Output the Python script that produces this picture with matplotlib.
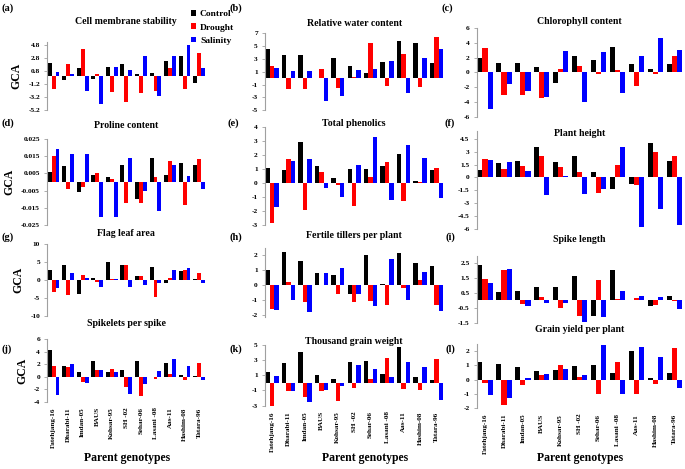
import matplotlib
matplotlib.use("Agg")
import matplotlib.pyplot as plt
from matplotlib.patches import Patch
from matplotlib.ticker import FuncFormatter
import numpy as np

plt.rcParams['font.family'] = ['Liberation Serif', 'DejaVu Serif']
plt.rcParams['font.weight'] = 'bold'
plt.rcParams['axes.unicode_minus'] = False

genotypes = ["Fatehjang-16", "Dharabi-11", "Imdan-05", "BAUS", "Kohsar-95", "SH -02",
             "Sehar-06", "Lasani -08", "Aas-11", "Hashim-08", "Tatara-96"]
series_names = ["Control", "Drought", "Salinity"]
series_colors = ["#000000", "#ff0000", "#0000ff"]

cms_control = [2.1, -0.6, 1.2, -0.5, 1.35, 1.95, 0.4, 0.5, 2.35, 3.1, -1.0]
cms_drought = [-1.9, 1.95, 4.25, 0.4, -2.4, -3.95, -2.65, -2.25, 1.2, -1.9, 3.6]
cms_salinity = [0.6, 0.4, -2.25, -4.3, 1.45, 1.0, 3.1, -3.0, 3.1, 4.8, 1.2]

rwc_control = [4.6, 3.65, 3.65, 0.05, 3.1, 1.9, 0.75, 2.55, 5.8, 5.5, 2.3]
rwc_drought = [1.9, -1.7, -1.7, 1.4, -1.6, 0.2, 5.45, -1.15, 3.8, -1.35, 6.45]
rwc_salinity = [1.65, 1.05, 1.05, -3.5, -2.7, 1.3, 1.4, 2.75, -2.25, 3.2, 4.6]

chl_control = [1.95, 1.35, 1.35, 0.7, -1.45, 2.2, 1.7, 3.5, 1.15, 0.5, 1.1]
chl_drought = [3.35, -3.1, -3.1, -3.4, 0.5, 0.85, -0.25, 0.35, -1.85, -0.15, 2.3]
chl_salinity = [-5.0, -1.55, -2.5, -3.35, 2.95, -4.0, 2.85, -2.75, 2.2, 4.75, 3.05]

pro_control = [0.006, 0.009, -0.006, 0.004, 0.003, 0.010, -0.010, 0.014, 0.004, 0.011, 0.010]
pro_drought = [0.015, -0.004, -0.003, 0.005, 0.002, -0.012, -0.012, 0.003, 0.012, -0.013, 0.013]
pro_salinity = [0.019, 0.016, 0.016, -0.020, -0.020, 0.014, -0.005, -0.017, 0.010, 0.0035, -0.004]

phe_control = [1.05, 0.95, 2.95, 1.2, 0.35, 1.0, 1.0, 1.25, 2.05, 0.15, 0.95]
phe_drought = [-2.85, 1.7, -1.9, 0.8, -0.15, -1.6, 0.45, 1.5, -1.25, 0.1, 1.05]
phe_salinity = [-1.7, 1.55, 1.7, -0.35, -0.95, 1.3, 3.3, -1.2, 2.7, 1.8, -1.05]

ph_control = [0.9, 1.65, 1.9, 3.55, 1.85, 2.5, 0.6, -1.35, -0.75, 4.0, 1.9]
ph_drought = [2.15, 0.95, 1.35, 2.5, 1.2, 0.6, -1.85, 1.5, -0.85, 3.0, 2.55]
ph_salinity = [2.05, 1.8, 0.8, -2.05, 0.2, -1.95, -1.35, 3.6, -5.8, -3.75, -5.6]

fla_control = [2.8, 4.2, -3.8, 0.4, 5.0, 4.1, 1.0, 3.6, -0.8, 2.4, 0.3]
fla_drought = [-3.3, -4.3, 1.3, -0.5, 0.1, 4.1, 1.1, -4.8, 0.6, 2.6, 2.0]
fla_salinity = [-2.2, 1.8, 0.6, -2.0, 0.1, -2.0, -1.5, -0.8, 2.6, 3.3, -0.8]

ftp_control = [1.05, 2.25, 1.6, 0.85, 0.7, -0.55, 2.05, 0.1, 2.15, 1.5, 1.3]
ftp_drought = [-1.55, 0.25, -1.1, 0.0, -0.6, -1.1, -1.05, -1.3, -0.2, 0.35, -1.3]
ftp_salinity = [-1.65, -1.0, -1.8, 0.85, 1.15, -0.55, -1.4, 1.75, -1.0, 0.9, -1.7]

sl_control = [2.35, 0.55, 0.6, 0.9, 0.9, 1.65, -1.05, 2.05, 0.05, -0.4, 0.3]
sl_drought = [1.45, 2.05, -0.25, 0.2, -0.5, -1.05, 1.35, 0.1, 0.15, -0.3, -0.05]
sl_salinity = [1.15, 2.1, -0.35, -0.15, -0.2, -1.45, -1.15, 0.65, 0.3, 0.2, -0.6]

sps_control = [4.3, 1.8, 0.8, 2.6, 0.8, 1.1, 2.6, 0.0, 2.2, 0.3, 0.1]
sps_drought = [1.7, 1.6, -0.9, 1.1, 1.2, -1.6, -3.1, -0.4, 0.4, -0.5, 2.2]
sps_salinity = [-3.0, 2.0, -1.0, 1.1, 0.7, -2.7, -1.2, 1.0, 2.9, 1.8, -0.6]

tgw_control = [1.4, 2.6, 4.0, 1.0, 0.5, 2.7, 2.9, 1.2, 4.7, 0.8, 0.4]
tgw_drought = [-3.0, -1.1, -1.9, -1.1, -2.4, -0.7, 0.5, 3.2, -0.8, -1.0, 3.1]
tgw_salinity = [0.9, -1.1, -2.5, -0.9, -0.4, 2.4, 1.8, 0.8, 2.7, 2.1, -2.2]

gy_control = [1.25, 1.1, 0.85, 0.6, 0.7, 0.95, 1.0, 0.45, 2.0, 0.15, 0.45]
gy_drought = [-0.25, -1.8, -0.4, 0.35, 1.05, 0.2, -1.0, 1.2, -1.0, -0.3, 2.2]
gy_salinity = [-1.1, -1.3, 0.15, 0.4, 0.75, 0.3, 2.4, -1.0, 2.3, 1.6, -0.6]

titles = ["Cell membrane stability", "Relative water content", "Chlorophyll content",
          "Proline content", "Total phenolics", "Plant height",
          "Flag leaf area", "Fertile tillers per plant", "Spike length",
          "Spikelets per spike", "Thousand grain weight", "Grain yield per plant"]
letters = ["(a)", "(b)", "(c)", "(d)", "(e)", "(f)", "(g)", "(h)", "(i)", "(j)", "(k)", "(l)"]
yticks = [[-5.2, -3.2, -1.2, 0.8, 2.8, 4.8], [-5, -3, -1, 1, 3, 5, 7], [-6, -4, -2, 0, 2, 4, 6],
          [-0.025, -0.015, -0.005, 0.005, 0.015, 0.025], [-3, -2, -1, 0, 1, 2, 3, 4],
          [-6, -4.5, -3, -1.5, 0, 1.5, 3, 4.5],
          [-10, -5, 0, 5, 10], [-2, -1, 0, 1, 2], [-1.5, -0.5, 0.5, 1.5, 2.5],
          [-4, -2, 0, 2, 4, 6], [-3, -1, 1, 3, 5], [-2, -1, 0, 1, 2]]
ylims = [(-5.2, 5.3), (-5, 7), (-6, 6), (-0.025, 0.025), (-3, 4), (-6, 5.4),
         (-10, 10), (-2.1, 2.5), (-1.5, 3.0), (-4, 6), (-3, 5), (-2, 2.5)]
data = [(cms_control, cms_drought, cms_salinity), (rwc_control, rwc_drought, rwc_salinity),
        (chl_control, chl_drought, chl_salinity), (pro_control, pro_drought, pro_salinity),
        (phe_control, phe_drought, phe_salinity), (ph_control, ph_drought, ph_salinity),
        (fla_control, fla_drought, fla_salinity), (ftp_control, ftp_drought, ftp_salinity),
        (sl_control, sl_drought, sl_salinity), (sps_control, sps_drought, sps_salinity),
        (tgw_control, tgw_drought, tgw_salinity), (gy_control, gy_drought, gy_salinity)]

# ---- layout (pixels) ----
W, H = 685, 469
col_left = [47, 264.7, 476.5]
col_width = [158.7, 179.0, 206.4]
tick_px = [(4.8, 45, -5.2, 110), (7, 33.3, -5, 110.3), (6, 28.3, -6, 116.7),
           (0.025, 138.7, -0.025, 225.3), (4, 127, -3, 225.3), (4.5, 139, -6, 228.7),
           (10, 243.7, -10, 316), (2, 255.3, -2, 315.3), (2.5, 263, -1.5, 322.7),
           (6, 339.3, -4, 401.7), (5, 344.7, -3, 405.7), (2, 351, -2, 408.3)]
title_y = [22, 24, 21, 126, 124, 133, 233, 235, 239, 324, 341, 329]
letter_pos = [(2, 8), (230, 8), (441, 8), (2, 123), (228, 123), (444, 123),
              (2, 237), (230, 237), (446, 237), (2, 349), (230, 349), (445, 349)]
xlabel_x = [127, 365, 580]

fig = plt.figure(figsize=(W / 100, H / 100), dpi=100)
x = np.arange(len(genotypes))
bw = 0.27
fmt = FuncFormatter(lambda v, p: ('%g' % round(v, 4)))

for i in range(12):
    c = i % 3
    v1, p1, v2, p2 = tick_px[i]
    lo, hi = ylims[i]
    s = (p2 - p1) / (v1 - v2)
    ytop = p1 - (hi - v1) * s
    ybot = p1 + (v1 - lo) * s
    ax = fig.add_axes([col_left[c] / W, 1 - ybot / H, col_width[c] / W, (ybot - ytop) / H])
    for k in range(3):
        ax.bar(x + (k - 1) * bw, data[i][k], width=bw, color=series_colors[k], linewidth=0)
    ax.set_xlim(-0.45, len(genotypes) - 1 + 0.45)
    ax.set_ylim(lo, hi)
    ax.set_yticks(yticks[i])
    ax.yaxis.set_major_formatter(fmt)
    for sp in ["top", "right", "bottom"]:
        ax.spines[sp].set_visible(False)
    ax.spines["left"].set_color("#a0a0a0")
    ax.spines["left"].set_linewidth(0.8)
    ax.tick_params(axis="y", length=2, width=0.6, color="#a0a0a0", pad=3, labelsize=5.3)
    if i >= 9:
        ax.set_xticks(x)
        ax.set_xticklabels(genotypes, rotation=90, fontsize=5.1, fontweight="bold")
        ax.tick_params(axis="x", length=0, pad=4)
        fig.text(xlabel_x[c] / W, 1 - 458 / H, "Parent genotypes", ha="center", va="center",
                 fontsize=8.5, fontweight="bold")
    else:
        ax.set_xticks([])
    if c == 0:
        ax.set_ylabel("GCA", fontsize=8.5, fontweight="bold", labelpad=4)
    fig.text((col_left[c] + col_width[c] / 2) / W, 1 - title_y[i] / H, titles[i],
             ha="center", va="center", fontsize=7.1, fontweight="bold")
    lx, ly = letter_pos[i]
    fig.text(lx / W, 1 - ly / H, letters[i], ha="left", va="center", fontsize=7.5, fontweight="bold")

handles = [Patch(facecolor=col, edgecolor="none") for col in series_colors]
fig.legend(handles, series_names, loc="upper left", bbox_to_anchor=(191 / W, 1 - 10 / H),
           frameon=False, fontsize=6.8, handlelength=0.55, handleheight=0.55,
           handletextpad=0.4, labelspacing=0.55, borderpad=0, borderaxespad=0)

fig.savefig("out.png", dpi=100)
